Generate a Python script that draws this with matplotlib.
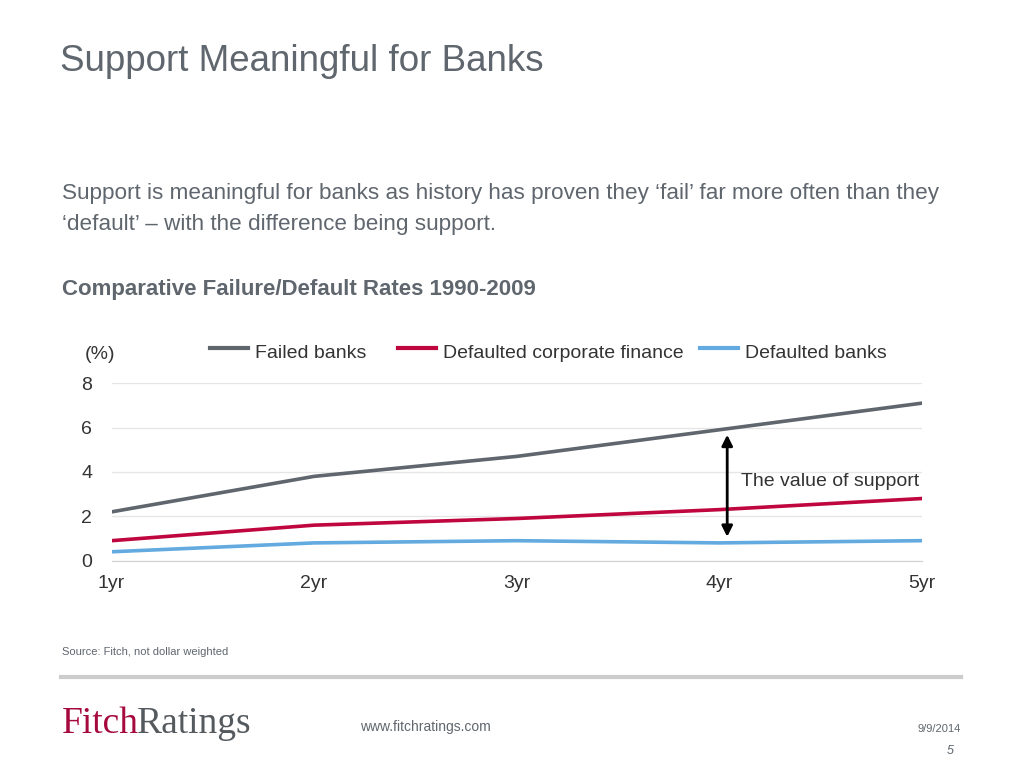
import matplotlib.pyplot as plt
from matplotlib.lines import Line2D

plt.rcParams["font.family"] = "Liberation Sans"

years = ["1yr", "2yr", "3yr", "4yr", "5yr"]
failed_banks = [2.2, 3.8, 4.7, 5.9, 7.1]
defaulted_corp = [0.9, 1.6, 1.9, 2.3, 2.8]
defaulted_banks = [0.4, 0.8, 0.9, 0.8, 0.9]
series_names = ["Failed banks", "Defaulted corporate finance", "Defaulted banks"]

c_failed = "#5f666d"
c_corp = "#c0063f"
c_banks = "#62aadf"
c_text = "#5f666d"

fig = plt.figure(figsize=(10.24, 7.68), dpi=100)
fig.patch.set_facecolor("white")

fig.text(0.059, 0.92, "Support Meaningful for Banks", fontsize=26.5, color=c_text, va="center")
fig.text(0.061, 0.748, "Support is meaningful for banks as history has proven they \u2018fail\u2019 far more often than they",
         fontsize=16.2, color=c_text, va="center")
fig.text(0.061, 0.708, "\u2018default\u2019 \u2013 with the difference being support.",
         fontsize=16.2, color=c_text, va="center")
fig.text(0.061, 0.623, "Comparative Failure/Default Rates 1990-2009", fontsize=16,
         color=c_text, fontweight="bold", va="center")

ax = fig.add_axes([0.109, 0.27, 0.791, 0.231])
x = list(range(len(years)))
ax.plot(x, failed_banks, color=c_failed, lw=2.6)
ax.plot(x, defaulted_corp, color=c_corp, lw=2.6)
ax.plot(x, defaulted_banks, color=c_banks, lw=2.6)
ax.set_xlim(0, 4)
ax.set_ylim(0, 8)
ax.set_yticks([0, 2, 4, 6, 8])
ax.set_xticks(x)
ax.set_xticklabels(years)
ax.tick_params(length=0, labelsize=14, colors="#333333")
ax.tick_params(axis="y", pad=14)
ax.tick_params(axis="x", pad=10)
ax.grid(axis="y", color="#e6e6e6", lw=1)
for s in ["top", "right", "left"]:
    ax.spines[s].set_visible(False)
ax.spines["bottom"].set_color("#d0d0d0")
ax.set_axisbelow(True)

ax.annotate("", xy=(3.04, 0.95), xytext=(3.04, 5.8),
            arrowprops=dict(arrowstyle="<|-|>", color="black", lw=2, mutation_scale=16))
ax.text(3.11, 3.55, "The value of support", fontsize=14, color="#333333", va="center")

# legend entries laid out manually above the plot
fig.text(0.083, 0.538, "(%)", fontsize=14, color="#333333", va="center")
leg_x = [0.205, 0.389, 0.684]
for lx, c, name in zip(leg_x, (c_failed, c_corp, c_banks), series_names):
    fig.add_artist(Line2D([lx, lx + 0.037], [0.547, 0.547], color=c, lw=3))
    fig.text(lx + 0.044, 0.54, name, fontsize=14, color="#333333", va="center")

fig.text(0.061, 0.151, "Source: Fitch, not dollar weighted", fontsize=8, color=c_text, va="center")
fig.add_artist(Line2D([0.06, 0.938], [0.118, 0.118], color="#cccccc", lw=3))
fig.text(0.06, 0.058, "Fitch", fontsize=27, color="#a6093d", family="Liberation Serif", va="center")
fig.text(0.134, 0.058, "Ratings", fontsize=27, color="#555a5f", family="Liberation Serif", va="center")
fig.text(0.352, 0.054, "www.fitchratings.com", fontsize=10, color=c_text, va="center")
fig.text(0.938, 0.051, "9/9/2014", fontsize=8, color=c_text, va="center", ha="right")
fig.text(0.925, 0.022, "5", fontsize=9, color=c_text, va="center", style="italic")

fig.savefig("out.png", dpi=100)
